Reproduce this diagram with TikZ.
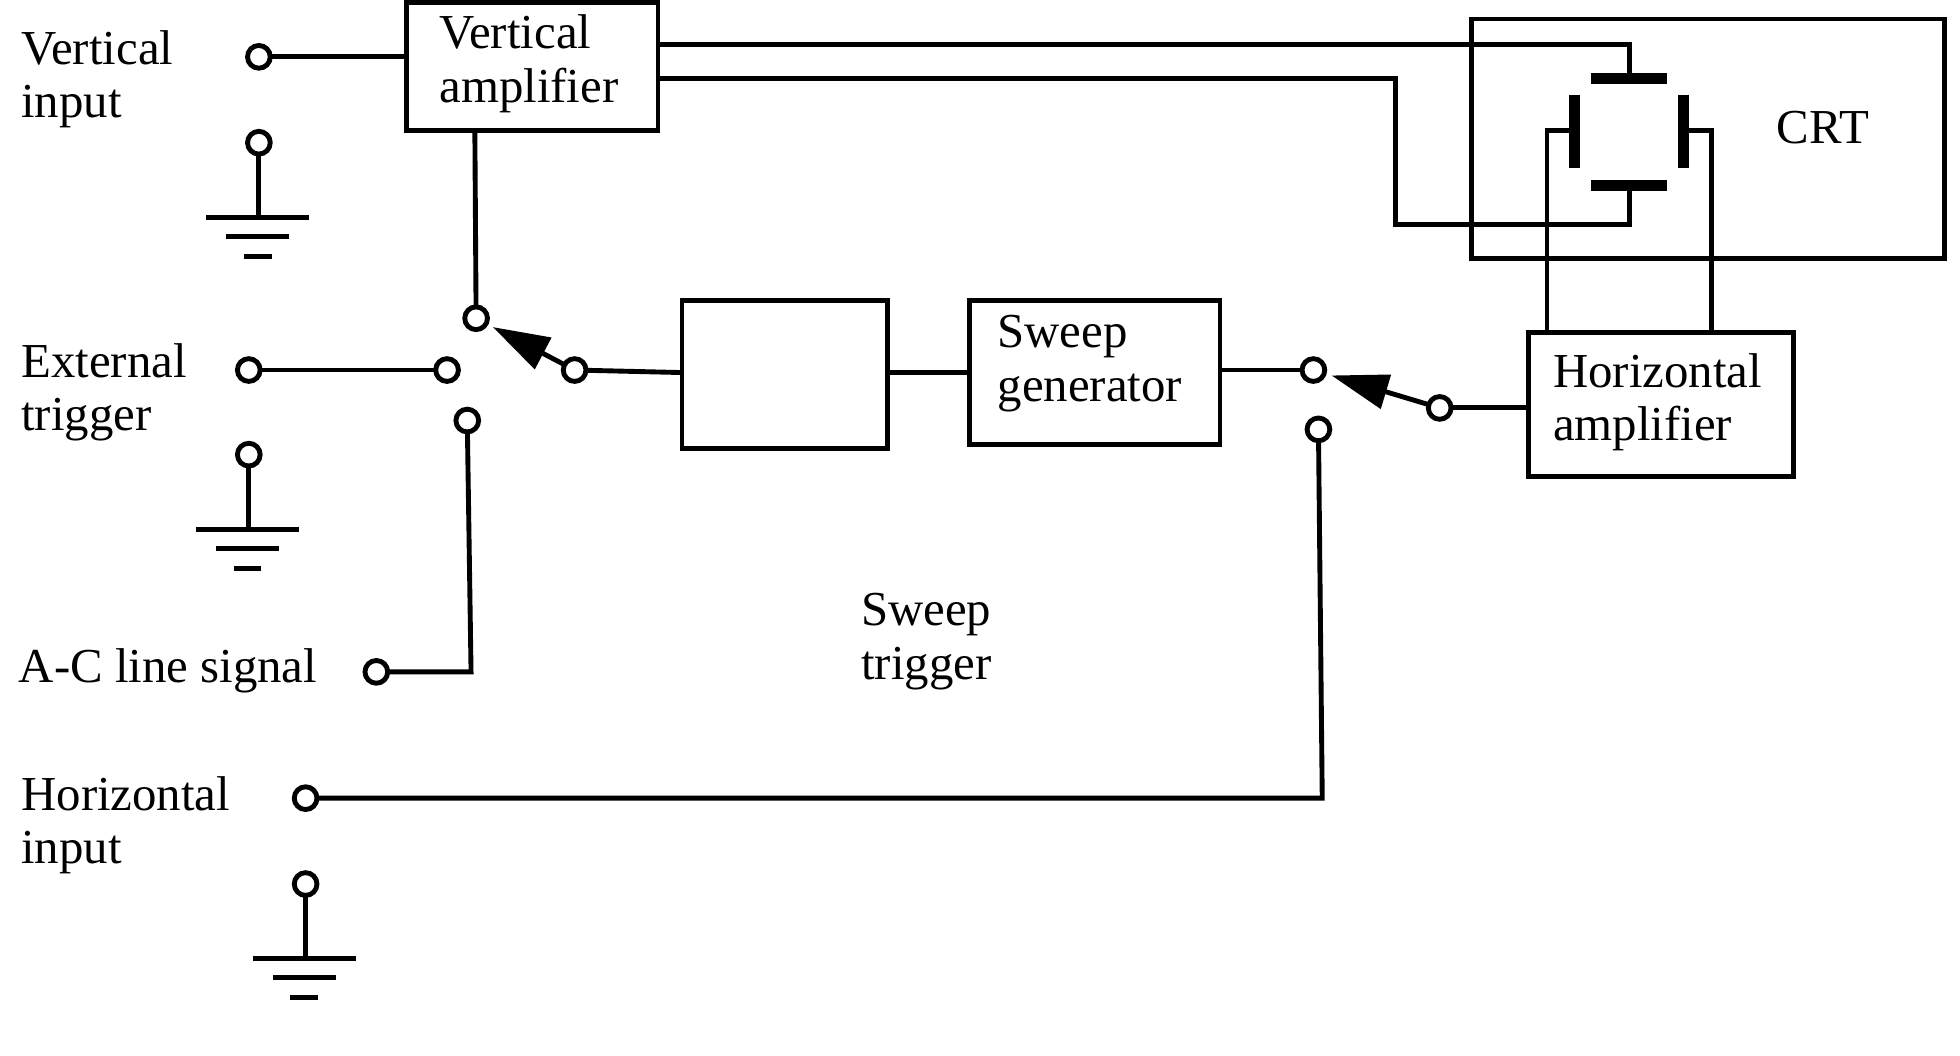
\documentclass[tikz,border=0pt]{standalone}
\usepackage{fontspec}
\setmainfont{Liberation Serif}
\usetikzlibrary{arrows.meta}
\begin{document}
\begin{tikzpicture}[x=0.02cm,y=-0.02cm,line width=2.2pt,
 box/.style={draw,line width=2.2pt},
 term/.style={circle,draw,line width=2.2pt,minimum size=0.36cm,inner sep=0pt,fill=white},
 lbl/.style={anchor=north west,align=left,inner sep=0pt,font=\fontsize{22}{26}\selectfont},
 btxt/.style={anchor=north west,align=left,inner sep=0pt,font=\fontsize{22}{26}\selectfont},
 sw/.style={-{Triangle[length=0.9cm,width=0.55cm]},shorten >=0.3cm}]
\useasboundingbox (0,0) rectangle (1552,836);
% labels
\node[lbl] (l1) at (15,22) {Vertical\\[-2pt]input};
\node[lbl] (l2) at (15,270) {External\\[-2pt]trigger};
\node[lbl] (l3) at (13,512) {A-C line signal};
\node[lbl] (l4) at (15,613) {Horizontal\\[-2pt]input};
\node[lbl] (l5) at (680,468) {Sweep\\[-2pt]trigger};
% boxes
\draw[box] (322,2) rectangle (521,103);
\node[btxt] (va) at (346,10) {Vertical\\[-2pt]amplifier};
\draw[box] (540,238) rectangle (703,355);
\draw[box] (768,238) rectangle (966,352);
\node[btxt] (sg) at (788,248) {Sweep\\[-2pt]generator};
\draw[box] (1210,263) rectangle (1420,377);
\node[btxt] (ha) at (1228,278) {Horizontal\\[-2pt]amplifier};
\draw[box] (1165,15) rectangle (1540,205);
\node[btxt] (crt) at (1405,86) {CRT};
% CRT plates and wiring
\draw (521,35) -- (1290,35) -- (1290,62);
\draw[line width=5pt] (1260,62) -- (1320,62);
\draw (521,62) -- (1105,62) -- (1105,178) -- (1290,178) -- (1290,147);
\draw[line width=5pt] (1260,147) -- (1320,147);
\draw[line width=5pt] (1247,75) -- (1247,133);
\draw (1247,103) -- (1225,103) -- (1225,263);
\draw[line width=5pt] (1333,75) -- (1333,133);
\draw (1333,103) -- (1355,103) -- (1355,263);
% wires
\draw (205,45) -- (322,45);
\draw (376,103) -- (377,252);
\draw (197,293) -- (354,293);
\draw (298,532) -- (373,532) -- (370,333);
\draw (242,632) -- (1047,632) -- (1044,340);
\draw (455,293) -- (540,295);
\draw (703,295) -- (768,295);
\draw (966,293) -- (1040,293);
\draw (1140,323) -- (1210,323);
% switch arms
\draw[sw] (455,293) -- (377,252);
\draw[sw] (1140,323) -- (1040,293);
% grounds
\foreach \x/\y in {205/113,197/360,242/700}{
 \draw (\x,\y) -- (\x,\y+59);
 \draw (\x-42,\y+59) -- (\x+40,\y+59);
 \draw (\x-26,\y+74) -- (\x+24,\y+74);
 \draw (\x-12,\y+90) -- (\x+10,\y+90);
 \node[term] at (\x,\y) {};
}
% terminals
\node[term] (t1) at (205,45) {};
\node[term] (t2) at (197,293) {};
\node[term] (t3) at (298,532) {};
\node[term] (t4) at (242,632) {};
\node[term] (s1a) at (377,252) {};
\node[term] (s1b) at (354,293) {};
\node[term] (s1c) at (370,333) {};
\node[term] (s1p) at (455,293) {};
\node[term] (s2a) at (1040,293) {};
\node[term] (s2b) at (1044,340) {};
\node[term] (s2p) at (1140,323) {};
\end{tikzpicture}
\end{document}
